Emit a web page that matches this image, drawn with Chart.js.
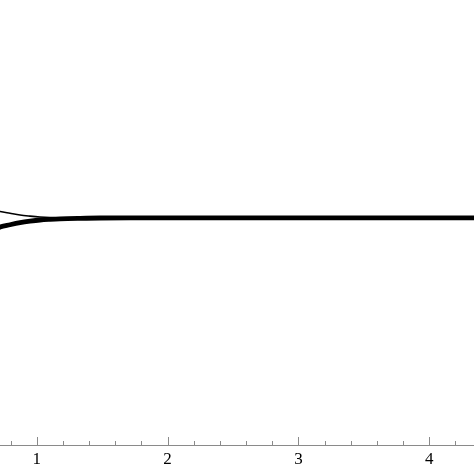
<!DOCTYPE html>
<html>
<head>
<meta charset="utf-8">
<script src="https://cdn.jsdelivr.net/npm/chart.js@4/dist/chart.umd.min.js"></script>
<style>
html,body{margin:0;padding:0;background:#fff;}
#c{display:block;}
</style>
</head>
<body>
<canvas id="c" width="474" height="474"></canvas>
<script>
// Data
const upperX = [0.70, 0.72, 0.796, 0.873, 0.949, 1.025, 1.102, 1.20, 1.40, 4.40];
const upperY = [1.032, 1.0286, 1.0207, 1.0131, 1.0082, 1.0042, 1.0016, 1.0003, 1.0, 1.0];
const lowerX = [0.70, 0.72, 0.796, 0.873, 0.949, 1.025, 1.102, 1.178, 1.331, 1.484, 1.713, 2.0, 4.40];
const lowerY = [0.953, 0.960, 0.970, 0.979, 0.9857, 0.991, 0.9941, 0.9963, 0.9985, 0.9998, 1.0, 1.0, 1.0];
const tickValues = [0.8,1.0,1.2,1.4,1.6,1.8,2.0,2.2,2.4,2.6,2.8,3.0,3.2,3.4,3.6,3.8,4.0,4.2];
const tickLabels = {1:'1',2:'2',3:'3',4:'4'};

const toPts = (xs, ys) => xs.map((x, i) => ({x: x, y: ys[i]}));

const innerTicks = {
  id: 'innerTicks',
  afterDraw(chart) {
    const s = chart.scales.x;
    const ctx = chart.ctx;
    const y0 = chart.chartArea.bottom;
    ctx.save();
    ctx.strokeStyle = '#8a8a8a';
    ctx.lineWidth = 1;
    s.ticks.forEach(t => {
      const v = t.value;
      const major = Math.abs(v - Math.round(v)) < 1e-6;
      const px = Math.round(s.getPixelForValue(v)) + 0.5;
      ctx.beginPath();
      ctx.moveTo(px, y0);
      ctx.lineTo(px, y0 - (major ? 8 : 4));
      ctx.stroke();
    });
    ctx.restore();
  }
};

new Chart(document.getElementById('c'), {
  type: 'line',
  data: {
    datasets: [
      {
        data: toPts(upperX, upperY),
        borderColor: '#000',
        borderWidth: 1.6,
        pointRadius: 0,
        cubicInterpolationMode: 'monotone',
        fill: false,
        order: 1
      },
      {
        data: toPts(lowerX, lowerY),
        borderColor: '#000',
        borderWidth: 4.8,
        pointRadius: 0,
        cubicInterpolationMode: 'monotone',
        fill: false,
        order: 2
      }
    ]
  },
  options: {
    responsive: false,
    animation: false,
    layout: {padding: {top: 0, left: 0, right: 0, bottom: 0}},
    plugins: {legend: {display: false}, tooltip: {enabled: false}},
    scales: {
      x: {
        type: 'linear',
        min: 0.7196,
        max: 4.3415,
        afterBuildTicks: (scale) => { scale.ticks = tickValues.map(v => ({value: v})); },
        grid: {display: false, drawTicks: false},
        border: {display: true, color: '#8a8a8a', width: 1},
        ticks: {
          autoSkip: false,
          maxRotation: 0,
          padding: 6,
          color: '#000',
          font: {family: 'Liberation Serif', size: 17, lineHeight: 1.0},
          callback: (v) => {
            const r = Math.round(v);
            return Math.abs(v - r) < 1e-6 && tickLabels[r] ? tickLabels[r] : '';
          }
        }
      },
      y: {
        type: 'linear',
        display: false,
        min: 0,
        max: 1.96
      }
    }
  },
  plugins: [innerTicks]
});
</script>
</body>
</html>
